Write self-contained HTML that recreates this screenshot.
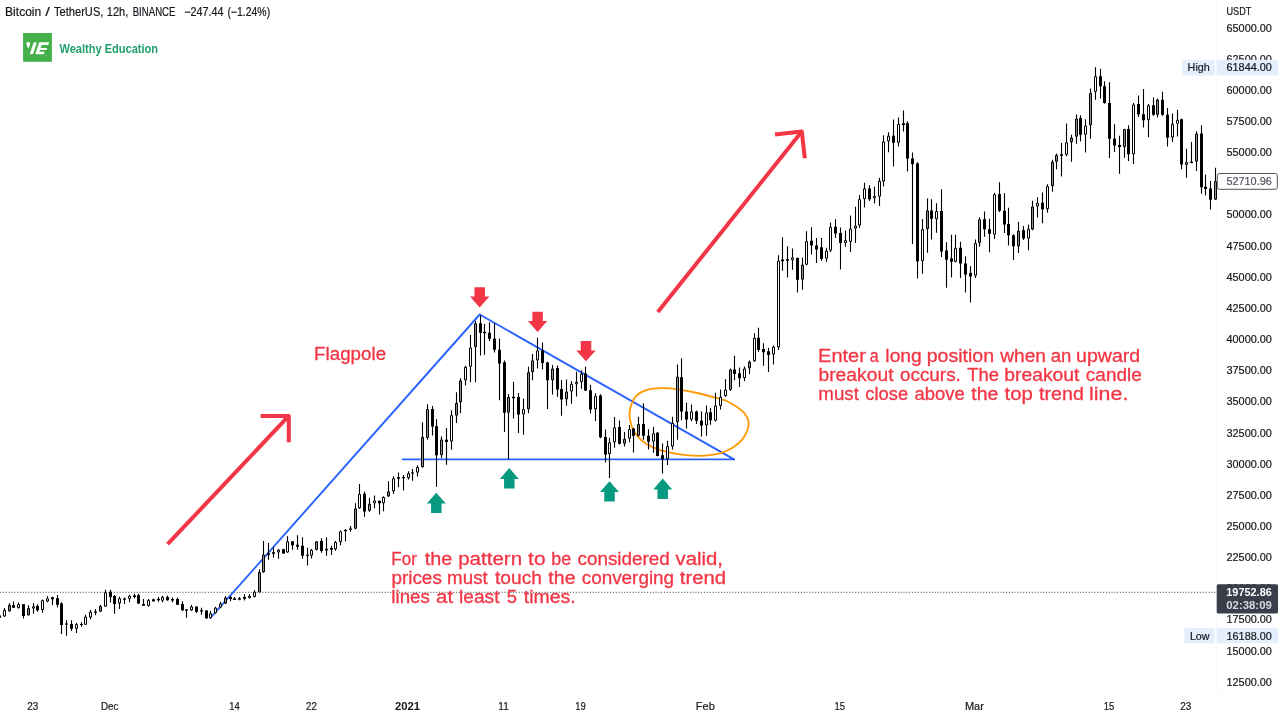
<!DOCTYPE html>
<html lang="en"><head><meta charset="utf-8"><title>Bitcoin / TetherUS, 12h, BINANCE</title>
<style>html,body{margin:0;padding:0;background:#fff;}body{width:1280px;height:717px;overflow:hidden;font-family:"Liberation Sans", sans-serif;}svg{display:block;}text{font-family:"Liberation Sans", sans-serif;}</style>
</head><body>
<svg width="1280" height="717" viewBox="0 0 1280 717">
<rect x="0" y="0" width="1280" height="717" fill="#ffffff"/>
<line x1="1216.5" y1="0" x2="1216.5" y2="692.5" stroke="#f9fafb" stroke-width="1"/>
<line x1="0" y1="692.5" x2="1280" y2="692.5" stroke="#f9fafb" stroke-width="1"/>
<line x1="0" y1="592.3" x2="1216" y2="592.3" stroke="#4a4e59" stroke-width="1" stroke-dasharray="1.1 1.75"/>
<g stroke="#2962ff" stroke-width="1.9" fill="none" stroke-linecap="round" stroke-linejoin="round">
<path d="M212 616.2L479.7 314.5L734 459.4"/>
<path d="M402.7 459.4H734"/>
</g>
<path d="M629.5 413.4C629.72 408.98 631.47 403.62 633.2 400.2C634.93 396.78 636.58 394.83 639.9 392.9C643.22 390.97 648.68 389.38 653.1 388.6C657.52 387.82 661.98 388.03 666.4 388.2C670.82 388.37 674.08 388.72 679.6 389.6C685.12 390.48 692.88 391.97 699.5 393.5C706.12 395.03 714.88 397.58 719.3 398.8C723.72 400.02 723.12 399.47 726 400.8C728.88 402.13 733.52 404.7 736.6 406.8C739.68 408.9 742.52 410.97 744.5 413.4C746.48 415.83 748.05 418.53 748.5 421.4C748.95 424.27 748.3 427.52 747.2 430.6C746.1 433.68 744.33 437.03 741.9 439.9C739.47 442.77 736.13 445.6 732.6 447.8C729.07 450 724.45 451.88 720.7 453.1C716.95 454.32 713.63 454.65 710.1 455.1C706.57 455.55 703.48 455.8 699.5 455.8C695.52 455.8 690.62 455.55 686.2 455.1C681.78 454.65 677.42 453.98 673 453.1C668.58 452.22 664.12 451.33 659.7 449.8C655.28 448.27 650.25 446.22 646.5 443.9C642.75 441.58 639.63 438.77 637.2 435.9C634.77 433.03 633.18 430.45 631.9 426.7C630.62 422.95 629.28 417.82 629.5 413.4Z" fill="none" stroke="#ff9800" stroke-width="1.8"/>
<g id="candles">
<path d="M-0.5 614.87V617.97M4.5 608.12V616.75M9.5 603.25V611.69M13.5 601.56V607.66M18.5 602.5V608.59M23.5 604.19V618.44M28.5 605.31V615.62M33.5 603.25V613.75M37.5 604.37V611.87M42.5 599.5V612.81M47.5 595.94V602.31M52.5 596.87V605.12M57.5 595V607.19M61.5 602.31V633.9M66.5 620.31V635.78M71.5 620.31V631.09M76.5 623.12V632.97M81.5 622.19V626.87M85.5 614.87V625M90.5 610V619.37M95.5 609.06V615.16M100.5 605.12V611.87M105.5 589.84V607M110.5 589.84V602.5M114.5 595V613.75M119.5 596.87V609.06M124.5 597.5V604.06M129.5 594.69V602.19M134.5 593.75V598.44M138.5 593.75V604.06M143.5 598.91V605.94M148.5 598.91V606.87M153.5 598.44V601.72M158.5 597.03V601.72M162.5 595.81V602.19M167.5 595.62V600.78M172.5 597.5V602.19M177.5 597.5V605M182.5 601.25V611.09M186.5 609.22V617.65M191.5 605V611.09M196.5 606.41V612.97M201.5 607.81V614.84M206.5 610.16V618.87M210.5 611.09V618.87M215.5 606.87V613.62M220.5 601.72V608.28M225.5 596.37V604.06M230.5 596.09V601.25M234.5 596.96V600.1M239.5 596.96V600.31M244.5 594.34V600.62M249.5 594.34V598.53M254.5 590.16V597.48M259.5 569.23V592.57M263.5 540.99V572.69M268.5 543.08V559.82M273.5 547.26V557.73M278.5 549.36V558.77M283.5 548.83V553.85M287.5 536.28V552.81M292.5 540.99V549.67M297.5 535.23V549.67M302.5 537.32V558.77M307.5 547.79V565.57M311.5 549.04V558.46M316.5 540.99V550.4M321.5 538.16V552.81M326.5 537.32V555.63M331.5 545.69V554.9M335.5 540.99V550.72M340.5 530.52V545.17M345.5 529.03V541.57M350.5 525.89V531.79M355.5 503.31V529.28M359.5 484.11V508.7M364.5 491.39V516.73M369.5 497.66V511.71M374.5 495.4V508.32M379.5 500.42V514.6M383.5 496.15V511.21M388.5 481.35V497.03M393.5 476.33V493.64M398.5 472.57V487.37M403.5 475.08V490.38M408.5 471.31V479.47M412.5 469.05V480.72M417.5 465.29V476.58M422.5 422.22V467.61M427.5 404.35V439.79M432.5 406.11V435.39M436.5 419.29V486.65M441.5 436.57V458.09M446.5 428.07V464.68M451.5 410.21V449.75M456.5 392.2V422.95M460.5 378.22V413.36M465.5 365.77V385.54M470.5 335.02V382.32M475.5 321.11V382.32M480.5 315.25V355.52M484.5 324.04V354.79M489.5 322.28V340.88M494.5 323.3V352.59M499.5 338.39V400.18M504.5 360.4V432.05M508.5 393.96V459.26M513.5 381.8V418.45M518.5 393.05V432.96M523.5 398.49V434.77M528.5 366.75V413.37M532.5 354.05V380.35M537.5 337.72V368.56M542.5 342.62V369.47M547.5 361.85V409.01M552.5 364.93V394.5M557.5 365.48V396.68M561.5 379.99V415.73M566.5 379.44V405.75M571.5 380.92V403.85M576.5 371.72V396.49M581.5 370.38V388.79M585.5 366.69V390.96M590.5 384.77V413.56M595.5 393.14V421.09M600.5 394.31V438.33M605.5 429.46V462.43M609.5 437.82V477.99M614.5 416.9V447.87M619.5 420.59V444.52M624.5 431.9V446.54M629.5 425.06V442.25M633.5 427.99V452.4M638.5 416.86V436.39M643.5 403.19V439.71M648.5 429.36V449.47M653.5 427.02V452.79M657.5 431.9V456.31M662.5 443.61V473.49M667.5 440.68V465.09M672.5 416.86V449.47M677.5 364.53V439.71M681.5 358.28V420.18M686.5 402.61V428.58M691.5 404.56V421.16M696.5 410.42V424.09M701.5 411.39V436.39M706.5 405.54V435.8M710.5 407.88V424.67M715.5 392.84V421.55M720.5 389.52V409.44M725.5 379.17V396.75M730.5 368.43V390.89M734.5 355.74V380.15M739.5 367.46V386.98M744.5 366.48V381.13M749.5 360.62V373.9M754.5 333.31V361.67M758.5 327.72V351.84M763.5 343.36V365.69M768.5 347.82V371.94M773.5 345.59V364.57M778.5 255.15V350.06M782.5 237.28V270.78M787.5 246.21V277.48M792.5 248.45V269.66M797.5 257.38V292.44M802.5 257.38V289.76M806.5 231.25V265.2M811.5 227.23V254.48M816.5 237.95V262.96M821.5 237.95V260.73M826.5 247.63V261.94M830.5 222.52V251.9M835.5 219.26V238.09M840.5 227.54V269.47M845.5 230.55V246.87M850.5 215.49V251.9M855.5 206.7V243.11M859.5 194.9V228.04M864.5 182.85V207.46M869.5 185.36V200.93M874.5 186.62V203.44M879.5 177.83V205.95M883.5 135.15V186.62M888.5 132.14V152.22M893.5 119.58V166.53M898.5 117.57V146.45M903.5 110.58V131.5M907.5 121.18V171.39M912.5 152.42V243.91M917.5 162.18V278.5M922.5 219.37V273.76M927.5 198.44V252.84M931.5 199.28V239.45M936.5 203.19V232.75M941.5 189.24V257.02M946.5 242.24V287.71M951.5 234.71V277.38M955.5 234.71V262.6M960.5 241.68V277.94M965.5 256.19V292.45M970.5 266.23V302.49M975.5 239.45V277.94M979.5 217.13V246.7M984.5 211.56V236.66M989.5 218.81V252.28M994.5 192.87V238.89M999.5 182.18V212.02M1004.5 193.33V232.94M1008.5 207.84V245.5M1013.5 234.34V260M1018.5 221.79V253.03M1023.5 225.97V239.92M1028.5 224.57V250.24M1032.5 200.86V230.15M1037.5 197.24V217.6M1042.5 192.5V223.18M1047.5 184.13V212.86M1052.5 159.86V191.66M1056.5 153.44V169.34M1061.5 143.12V176.6M1066.5 123.6V156.23M1071.5 134.76V161.81M1076.5 114.39V143.68M1080.5 115.23V141.45M1085.5 119.14V152.61M1090.5 88.48V138.71M1095.5 67.28V99.64M1100.5 68.84V98.53M1104.5 81.34V103.66M1109.5 82.23V158.12M1114.5 124.2V152.1M1119.5 135.8V173.75M1124.5 128.66V157.68M1128.5 125.31V161.03M1133.5 102.99V163.93M1138.5 95.62V117.05M1143.5 88.93V127.54M1148.5 104.11V137.14M1153.5 97.41V115.71M1157.5 98.53V117.5M1162.5 91.83V115.71M1167.5 108.12V146.52M1172.5 113.48V142.05M1177.5 109.69V136.47M1181.5 118.62V169.29M1186.5 148.75V177.77M1191.5 142.05V163.26M1196.5 131.34V171.07M1201.5 125.31V193.84M1205.5 174.42V195.62M1210.5 181.12V209.46M1215.5 167.72V200.09" stroke="#000" stroke-width="1.1" fill="none"/>
<path d="M-2 615.62h3v2.06h-3zM12 605.31h3v2.34h-3zM22 604.19h3v11.91h-3zM36 606.06h3v4.12h-3zM51 597.34h3v1.87h-3zM56 598.28h3v6.56h-3zM60 603.44h3v21.56h-3zM65 623.56h3v1h-3zM70 624.06h3v4.69h-3zM80 624.03h3v1h-3zM94 611.41h3v1.41h-3zM109 591.72h3v5.16h-3zM113 595.94h3v7.97h-3zM123 598.44h3v1.41h-3zM133 595.62h3v1.41h-3zM137 595.16h3v8.44h-3zM142 604.06h3v1.69h-3zM152 599.19h3v2.06h-3zM157 598.91h3v1.41h-3zM166 597.03h3v3.28h-3zM171 598.91h3v1.59h-3zM176 598.91h3v5.91h-3zM181 604.06h3v6.09h-3zM185 609.22h3v1.22h-3zM195 606.41h3v5.34h-3zM200 610.16h3v1.22h-3zM205 610.44h3v7.87h-3zM229 597.03h3v1.87h-3zM233 598.53h3v1.36h-3zM243 596.96h3v1.88h-3zM267 553.23h3v1.88h-3zM272 552.18h3v1.67h-3zM282 549.36h3v4.18h-3zM291 541.3h3v3.87h-3zM296 544.65h3v2.09h-3zM301 545.69h3v9.94h-3zM306 554.82h3v1h-3zM320 540.99h3v9.94h-3zM330 548h3v1.67h-3zM349 528.4h3v1.25h-3zM363 493.64h3v17.82h-3zM378 500.8h3v2.51h-3zM397 477.33h3v1.51h-3zM402 476.96h3v1.25h-3zM411 472.57h3v1h-3zM431 409.04h3v17.57h-3zM435 426.32h3v28.85h-3zM445 439.79h3v2.2h-3zM479 323.3h3v9.52h-3zM483 331.8h3v1.46h-3zM488 332.82h3v5.86h-3zM493 338.39h3v11.28h-3zM498 349.66h3v13.91h-3zM503 362.21h3v50.43h-3zM512 396.68h3v1.45h-3zM517 397.04h3v17.41h-3zM541 350.42h3v12.7h-3zM546 362.57h3v17.78h-3zM556 368.02h3v21.41h-3zM560 389.06h3v10.34h-3zM584 373.39h3v17.07h-3zM589 390.13h3v19.25h-3zM599 395.48h3v41.84h-3zM604 436.99h3v17.57h-3zM618 426.95h3v16.74h-3zM632 428.58h3v7.23h-3zM642 424.09h3v11.72h-3zM647 435.8h3v5.86h-3zM656 432.87h3v23.04h-3zM661 455.33h3v3.91h-3zM680 377.22h3v34.17h-3zM685 411.39h3v8.2h-3zM695 411.39h3v9.37h-3zM700 420.77h3v4.69h-3zM709 412.37h3v7.81h-3zM733 369.41h3v4.49h-3zM738 373.31h3v4.88h-3zM757 337.77h3v12.28h-3zM762 348.94h3v3.35h-3zM767 351.17h3v3.8h-3zM781 259.61h3v1.56h-3zM786 258.94h3v1.79h-3zM796 258.05h3v21.66h-3zM810 240.63h3v4.91h-3zM815 245.54h3v4.02h-3zM820 247.33h3v11.61h-3zM834 226.79h3v6.78h-3zM839 233.07h3v10.04h-3zM868 188.38h3v10.8h-3zM892 135.65h3v7.03h-3zM902 123.13h3v1.95h-3zM906 123.13h3v35.43h-3zM911 158.56h3v5.58h-3zM916 163.58h3v97.63h-3zM930 210.44h3v8.37h-3zM940 211h3v40.45h-3zM945 250.61h3v9.21h-3zM950 258.42h3v3.35h-3zM959 247.82h3v15.62h-3zM964 263.44h3v11.16h-3zM969 272.92h3v3.63h-3zM983 219.37h3v9.76h-3zM988 229.13h3v4.74h-3zM998 193.89h3v16.74h-3zM1003 210.63h3v13.95h-3zM1007 224.02h3v11.16h-3zM1012 235.17h3v11.16h-3zM1022 230.15h3v8.37h-3zM1041 202.82h3v6.42h-3zM1060 154.28h3v1.39h-3zM1079 118.02h3v16.74h-3zM1099 76.21h3v10.04h-3zM1103 86.25h3v16.74h-3zM1108 102.99h3v35.71h-3zM1113 138.71h3v6.7h-3zM1118 144.96h3v2.01h-3zM1127 129.11h3v25.22h-3zM1137 104.11h3v10.04h-3zM1142 114.15h3v6.03h-3zM1152 105.22h3v9.6h-3zM1161 99.64h3v15.18h-3zM1166 114.82h3v22.77h-3zM1180 119.29h3v45.09h-3zM1190 161.7h3v1.34h-3zM1200 133.57h3v53.57h-3zM1204 186.7h3v2.23h-3zM1209 188.48h3v11.16h-3z" fill="#000"/>
<path d="M3.5 610.31h2v5.75h-2zM17.5 604.69h2v2.94h-2zM32.5 606.75h2v1.34h-2zM41.5 600.66h2v8.84h-2zM46.5 598.78h2v2.28h-2zM75.5 624.56h2v3.69h-2zM84.5 617.06h2v7.25h-2zM89.5 612.19h2v4.81h-2zM104.5 592.69h2v13.53h-2zM118.5 598.78h2v4.16h-2zM128.5 596.12h2v2.28h-2zM147.5 600.62h2v4.81h-2zM161.5 597.25h2v3.03h-2zM190.5 606.91h2v3.03h-2zM209.5 613.75h2v4.06h-2zM214.5 608.12h2v4.62h-2zM219.5 604.09h2v2.75h-2zM238.5 598.51h2v0.88h-2zM248.5 596.2h2v1.51h-2zM253.5 592.23h2v4.23h-2zM277.5 550.17h2v1.82h-2zM286.5 541.8h2v10.19h-2zM310.5 550.38h2v4.75h-2zM325.5 549.12h2v1.09h-2zM334.5 542.53h2v6.32h-2zM339.5 531.76h2v9.78h-2zM344.5 530.15h2v0.88h-2zM358.5 494.4h2v13.43h-2zM373.5 500.92h2v1.89h-2zM382.5 497.53h2v5.27h-2zM392.5 478.71h2v12.17h-2zM407.5 473.69h2v4.02h-2zM416.5 467.42h2v4.65h-2zM450.5 415.69h2v25.36h-2zM464.5 367.3h2v12.62h-2zM469.5 347.97h2v18.33h-2zM522.5 409.51h2v4.44h-2zM536.5 350.92h2v8.98h-2zM570.5 384.27h2v6.7h-2zM575.5 382.26h2v1.51h-2zM580.5 374.22h2v7.37h-2zM594.5 396.48h2v12.39h-2zM608.5 442.84h2v10.72h-2zM613.5 427.78h2v14.06h-2zM628.5 429.47h2v8.76h-2zM652.5 433.76h2v7.4h-2zM666.5 446.65h2v12.08h-2zM671.5 423.22h2v22.82h-2zM690.5 411.89h2v7.2h-2zM705.5 412.87h2v12.08h-2zM714.5 406.04h2v14.23h-2zM719.5 397.25h2v8.18h-2zM724.5 390.02h2v5.64h-2zM743.5 368.93h2v8.76h-2zM753.5 338.27h2v22.45h-2zM772.5 347.21h2v6.82h-2zM777.5 261.23h2v85.65h-2zM791.5 257.88h2v1.9h-2zM805.5 241.58h2v22.67h-2zM825.5 251.14h2v7.03h-2zM829.5 227.29h2v22.85h-2zM844.5 240.6h2v2.01h-2zM849.5 229.05h2v12.31h-2zM854.5 226.03h2v2.01h-2zM858.5 199.67h2v25.36h-2zM863.5 188.88h2v9.8h-2zM873.5 196.41h2v1.51h-2zM878.5 181.34h2v14.82h-2zM882.5 141.93h2v39.17h-2zM887.5 136.15h2v4.77h-2zM897.5 124.35h2v17.83h-2zM921.5 229.63h2v31.08h-2zM935.5 211.5h2v7.37h-2zM954.5 248.32h2v12.95h-2zM974.5 243.58h2v31.64h-2zM993.5 194.76h2v39.45h-2zM1027.5 229.26h2v8.76h-2zM1036.5 203.32h2v2.63h-2zM1046.5 186.58h2v22.15h-2zM1065.5 142.79h2v11.55h-2zM1084.5 126.05h2v8.21h-2zM1094.5 76.71h2v14.62h-2zM1132.5 105.05h2v48.78h-2zM1147.5 105.72h2v13.96h-2zM1171.5 124.25h2v12.84h-2zM1176.5 120.23h2v3.02h-2zM1185.5 162.64h2v1.68h-2z" fill="#fff" stroke="#000" stroke-width="1"/>
<path d="M8.5 605.34h2v5.56h-2zM27.5 608.62h2v6.31h-2zM99.5 606.56h2v4.62h-2zM224.5 598h2v5.09h-2zM258.5 572.35h2v19.51h-2zM262.5 555.09h2v16.79h-2zM315.5 541.8h2v7.58h-2zM354.5 508.82h2v19.45h-2zM368.5 504.18h2v6.15h-2zM387.5 491.89h2v4.02h-2zM421.5 437.36h2v29.46h-2zM426.5 409.54h2v27.99h-2zM440.5 439.99h2v14.67h-2zM455.5 403.39h2v11.74h-2zM459.5 380.91h2v20.97h-2zM474.5 323.8h2v22.87h-2zM507.5 397.54h2v14.6h-2zM527.5 372.69h2v36.19h-2zM531.5 360.9h2v10.79h-2zM551.5 369.06h2v10.79h-2zM565.5 392.1h2v6.8h-2zM623.5 439.23h2v3.88h-2zM637.5 424.59h2v10.72h-2zM676.5 377.13h2v44.5h-2zM729.5 369.91h2v19.5h-2zM748.5 362.1h2v5.83h-2zM801.5 265.25h2v13.96h-2zM926.5 210.94h2v17.69h-2zM978.5 219.87h2v22.71h-2zM1017.5 231.21h2v14.62h-2zM1031.5 206.94h2v22.15h-2zM1051.5 162.31h2v23.27h-2zM1055.5 155.34h2v5.97h-2zM1070.5 138.05h2v3.74h-2zM1075.5 119.08h2v17.13h-2zM1089.5 93.45h2v31.37h-2zM1123.5 129.61h2v16.86h-2zM1156.5 100.14h2v14.18h-2zM1195.5 134.07h2v27.12h-2zM1214.5 181.62h2v17.53h-2z" fill="#8e8e8e" stroke="#000" stroke-width="1"/>
</g>
<g stroke="#f23645" stroke-width="4" fill="none" stroke-linecap="butt" stroke-linejoin="round">
<path d="M167.6 544.2L288.8 415.9"/>
<path d="M260.6 415.9H288.8V442.2" />
<path d="M657.8 312L801.8 131.5"/>
<path d="M775 134.6L801.8 131.5L804.8 158.2"/>
</g>
<path d="M479.7 307.4L470 296.6H474.45V287.2H484.95V296.6H489.4Z" fill="#f23645"/>
<path d="M537.6 331.9L527.9 321.1H532.35V311.7H542.85V321.1H547.3Z" fill="#f23645"/>
<path d="M586 361.2L576.3 350.4H580.75V341H591.25V350.4H595.7Z" fill="#f23645"/>
<path d="M436.3 492.8L426.8 503.6H431.05V513.1H441.55V503.6H445.8Z" fill="#089981"/>
<path d="M509.3 468.1L499.8 478.9H504.05V488.4H514.55V478.9H518.8Z" fill="#089981"/>
<path d="M609.5 481.3L600 492.1H604.25V501.6H614.75V492.1H619Z" fill="#089981"/>
<path d="M662.7 478.6L653.2 489.4H657.45V498.9H667.95V489.4H672.2Z" fill="#089981"/>
<rect x="23.1" y="33" width="28.8" height="28.8" fill="#43b04a"/>
<g fill="#fff" id="logo">
<path d="M26.5 44.4A1.9 1.9 0 1 1 30.2 43.9C30.3 45 29.4 45.6 29.1 46.3C28.9 47 29.2 47.9 29.4 48.6C27.9 47.7 26.7 46.1 26.5 44.4Z"/>
<g transform="translate(0,54.3) skewX(-18) translate(0,-54.3)">
<rect x="29.7" y="42.3" width="3.3" height="12" rx="1.1" ry="1.1"/>
<path d="M35.3 42.3H44.6Q45.4 42.3 45.4 43.1V44.1Q45.4 44.9 44.6 44.9H38.5V47.9H44.6Q45.2 47.9 45.2 48.5V49.4Q45.2 50 44.6 50H38.5V51.8H43.2Q43.9 51.8 43.9 52.5V53.6Q43.9 54.3 43.2 54.3H36Q35.3 54.3 35.3 53.6Z"/>
</g>
<circle cx="45.3" cy="55.3" r="0.35"/>
</g>
<text x="59.4" y="52.6" font-size="12" fill="#22a06b" font-weight="bold" textLength="98.7" lengthAdjust="spacingAndGlyphs">Wealthy Education</text>
<text y="16" font-size="12" fill="#15171c" stroke="#15171c" stroke-width="0.2"><tspan x="5.1" textLength="36.12" lengthAdjust="spacingAndGlyphs">Bitcoin</tspan> <tspan x="45.3" textLength="4.65" lengthAdjust="spacingAndGlyphs">/</tspan> <tspan x="54.02" textLength="49.35" lengthAdjust="spacingAndGlyphs">TetherUS,</tspan> <tspan x="106.77" textLength="21.5" lengthAdjust="spacingAndGlyphs">12h,</tspan> <tspan x="132.7" textLength="42.74" lengthAdjust="spacingAndGlyphs">BINANCE</tspan> <tspan x="184.36" textLength="39.01" lengthAdjust="spacingAndGlyphs">&#8722;247.44</tspan> <tspan x="227.39" textLength="42.74" lengthAdjust="spacingAndGlyphs">(&#8722;1.24%)</tspan></text>
<text y="361.9" font-size="17.5" fill="#f23645" stroke="#f23645" stroke-width="0.3"><tspan x="818.05" textLength="47.83" lengthAdjust="spacingAndGlyphs">Enter</tspan> <tspan x="869.86" textLength="8.92" lengthAdjust="spacingAndGlyphs">a</tspan> <tspan x="885.38" textLength="36.42" lengthAdjust="spacingAndGlyphs">long</tspan> <tspan x="926.67" textLength="67.48" lengthAdjust="spacingAndGlyphs">position</tspan> <tspan x="1000.2" textLength="45.74" lengthAdjust="spacingAndGlyphs">when</tspan> <tspan x="1050.66" textLength="20.57" lengthAdjust="spacingAndGlyphs">an</tspan> <tspan x="1076.07" textLength="64.15" lengthAdjust="spacingAndGlyphs">upward</tspan></text>
<text y="381.2" font-size="17.5" fill="#f23645" stroke="#f23645" stroke-width="0.3"><tspan x="818.44" textLength="75.08" lengthAdjust="spacingAndGlyphs">breakout</tspan> <tspan x="899.94" textLength="60.89" lengthAdjust="spacingAndGlyphs">occurs.</tspan> <tspan x="967.28" textLength="31.71" lengthAdjust="spacingAndGlyphs">The</tspan> <tspan x="1004.29" textLength="75.13" lengthAdjust="spacingAndGlyphs">breakout</tspan> <tspan x="1085.84" textLength="55.99" lengthAdjust="spacingAndGlyphs">candle</tspan></text>
<text y="400.4" font-size="17.5" fill="#f23645" stroke="#f23645" stroke-width="0.3"><tspan x="818.37" textLength="40.56" lengthAdjust="spacingAndGlyphs">must</tspan> <tspan x="865.37" textLength="42.72" lengthAdjust="spacingAndGlyphs">close</tspan> <tspan x="914.57" textLength="50.05" lengthAdjust="spacingAndGlyphs">above</tspan> <tspan x="971.37" textLength="27.04" lengthAdjust="spacingAndGlyphs">the</tspan> <tspan x="1004.55" textLength="28.4" lengthAdjust="spacingAndGlyphs">top</tspan> <tspan x="1039.06" textLength="44.76" lengthAdjust="spacingAndGlyphs">trend</tspan> <tspan x="1089.13" textLength="39.23" lengthAdjust="spacingAndGlyphs">line.</tspan></text>
<text y="564.9" font-size="17.5" fill="#f23645" stroke="#f23645" stroke-width="0.3"><tspan x="391.29" textLength="25.56" lengthAdjust="spacingAndGlyphs">For</tspan> <tspan x="424.86" textLength="27.46" lengthAdjust="spacingAndGlyphs">the</tspan> <tspan x="458.21" textLength="63.86" lengthAdjust="spacingAndGlyphs">pattern</tspan> <tspan x="528.14" textLength="17.38" lengthAdjust="spacingAndGlyphs">to</tspan> <tspan x="551.38" textLength="19.91" lengthAdjust="spacingAndGlyphs">be</tspan> <tspan x="577.44" textLength="92.46" lengthAdjust="spacingAndGlyphs">considered</tspan> <tspan x="675.58" textLength="47.42" lengthAdjust="spacingAndGlyphs">valid,</tspan></text>
<text y="583.8" font-size="17.5" fill="#f23645" stroke="#f23645" stroke-width="0.3"><tspan x="391.46" textLength="50.37" lengthAdjust="spacingAndGlyphs">prices</tspan> <tspan x="447.11" textLength="40.62" lengthAdjust="spacingAndGlyphs">must</tspan> <tspan x="494.97" textLength="46.95" lengthAdjust="spacingAndGlyphs">touch</tspan> <tspan x="548.37" textLength="27.15" lengthAdjust="spacingAndGlyphs">the</tspan> <tspan x="581.74" textLength="92.35" lengthAdjust="spacingAndGlyphs">converging</tspan> <tspan x="679.85" textLength="46.31" lengthAdjust="spacingAndGlyphs">trend</tspan></text>
<text y="602.8" font-size="17.5" fill="#f23645" stroke="#f23645" stroke-width="0.3"><tspan x="391.37" textLength="38.46" lengthAdjust="spacingAndGlyphs">lines</tspan> <tspan x="436.08" textLength="17.13" lengthAdjust="spacingAndGlyphs">at</tspan> <tspan x="459.09" textLength="40.39" lengthAdjust="spacingAndGlyphs">least</tspan> <tspan x="506.77" textLength="10.2" lengthAdjust="spacingAndGlyphs">5</tspan> <tspan x="523.77" textLength="51.99" lengthAdjust="spacingAndGlyphs">times.</tspan></text>
<text y="359.5" font-size="17.5" fill="#f23645" stroke="#f23645" stroke-width="0.3"><tspan x="314.1" textLength="71.98" lengthAdjust="spacingAndGlyphs">Flagpole</tspan></text>
<text x="1226.5" y="14.9" font-size="11" fill="#15171c" textLength="24.8" lengthAdjust="spacingAndGlyphs" stroke="#15171c" stroke-width="0.2">USDT</text>
<text x="1226.5" y="31.5" font-size="11" fill="#15171c" textLength="45.4" lengthAdjust="spacingAndGlyphs" stroke="#15171c" stroke-width="0.2">65000.00</text>
<text x="1226.5" y="62.66" font-size="11" fill="#15171c" textLength="45.4" lengthAdjust="spacingAndGlyphs" stroke="#15171c" stroke-width="0.2">62500.00</text>
<text x="1226.5" y="93.81" font-size="11" fill="#15171c" textLength="45.4" lengthAdjust="spacingAndGlyphs" stroke="#15171c" stroke-width="0.2">60000.00</text>
<text x="1226.5" y="124.97" font-size="11" fill="#15171c" textLength="45.4" lengthAdjust="spacingAndGlyphs" stroke="#15171c" stroke-width="0.2">57500.00</text>
<text x="1226.5" y="156.13" font-size="11" fill="#15171c" textLength="45.4" lengthAdjust="spacingAndGlyphs" stroke="#15171c" stroke-width="0.2">55000.00</text>
<text x="1226.5" y="187.29" font-size="11" fill="#15171c" textLength="45.4" lengthAdjust="spacingAndGlyphs" stroke="#15171c" stroke-width="0.2">52500.00</text>
<text x="1226.5" y="218.44" font-size="11" fill="#15171c" textLength="45.4" lengthAdjust="spacingAndGlyphs" stroke="#15171c" stroke-width="0.2">50000.00</text>
<text x="1226.5" y="249.6" font-size="11" fill="#15171c" textLength="45.4" lengthAdjust="spacingAndGlyphs" stroke="#15171c" stroke-width="0.2">47500.00</text>
<text x="1226.5" y="280.76" font-size="11" fill="#15171c" textLength="45.4" lengthAdjust="spacingAndGlyphs" stroke="#15171c" stroke-width="0.2">45000.00</text>
<text x="1226.5" y="311.92" font-size="11" fill="#15171c" textLength="45.4" lengthAdjust="spacingAndGlyphs" stroke="#15171c" stroke-width="0.2">42500.00</text>
<text x="1226.5" y="343.07" font-size="11" fill="#15171c" textLength="45.4" lengthAdjust="spacingAndGlyphs" stroke="#15171c" stroke-width="0.2">40000.00</text>
<text x="1226.5" y="374.23" font-size="11" fill="#15171c" textLength="45.4" lengthAdjust="spacingAndGlyphs" stroke="#15171c" stroke-width="0.2">37500.00</text>
<text x="1226.5" y="405.39" font-size="11" fill="#15171c" textLength="45.4" lengthAdjust="spacingAndGlyphs" stroke="#15171c" stroke-width="0.2">35000.00</text>
<text x="1226.5" y="436.55" font-size="11" fill="#15171c" textLength="45.4" lengthAdjust="spacingAndGlyphs" stroke="#15171c" stroke-width="0.2">32500.00</text>
<text x="1226.5" y="467.7" font-size="11" fill="#15171c" textLength="45.4" lengthAdjust="spacingAndGlyphs" stroke="#15171c" stroke-width="0.2">30000.00</text>
<text x="1226.5" y="498.86" font-size="11" fill="#15171c" textLength="45.4" lengthAdjust="spacingAndGlyphs" stroke="#15171c" stroke-width="0.2">27500.00</text>
<text x="1226.5" y="530.02" font-size="11" fill="#15171c" textLength="45.4" lengthAdjust="spacingAndGlyphs" stroke="#15171c" stroke-width="0.2">25000.00</text>
<text x="1226.5" y="561.18" font-size="11" fill="#15171c" textLength="45.4" lengthAdjust="spacingAndGlyphs" stroke="#15171c" stroke-width="0.2">22500.00</text>
<text x="1226.5" y="592.34" font-size="11" fill="#15171c" textLength="45.4" lengthAdjust="spacingAndGlyphs" stroke="#15171c" stroke-width="0.2">20000.00</text>
<text x="1226.5" y="623.49" font-size="11" fill="#15171c" textLength="45.4" lengthAdjust="spacingAndGlyphs" stroke="#15171c" stroke-width="0.2">17500.00</text>
<text x="1226.5" y="654.65" font-size="11" fill="#15171c" textLength="45.4" lengthAdjust="spacingAndGlyphs" stroke="#15171c" stroke-width="0.2">15000.00</text>
<text x="1226.5" y="685.81" font-size="11" fill="#15171c" textLength="45.4" lengthAdjust="spacingAndGlyphs" stroke="#15171c" stroke-width="0.2">12500.00</text>
<rect x="1182.3" y="59.8" width="32.7" height="15.7" fill="#e3effd"/>
<rect x="1216.8" y="59.8" width="61.4" height="15.7" fill="#e3effd"/>
<text x="1187.6" y="71.3" font-size="11" fill="#131722" textLength="22.2" lengthAdjust="spacingAndGlyphs" stroke="#131722" stroke-width="0.2">High</text>
<text x="1226.5" y="71.3" font-size="11" fill="#15171c" textLength="45.4" lengthAdjust="spacingAndGlyphs" stroke="#15171c" stroke-width="0.2">61844.00</text>
<rect x="1184.3" y="628" width="30.4" height="15.3" fill="#e3effd"/>
<rect x="1217" y="628" width="61" height="15.3" fill="#e3effd"/>
<text x="1189.9" y="639.6" font-size="11" fill="#131722" textLength="19.5" lengthAdjust="spacingAndGlyphs" stroke="#131722" stroke-width="0.2">Low</text>
<text x="1226.5" y="639.6" font-size="11" fill="#15171c" textLength="45.4" lengthAdjust="spacingAndGlyphs" stroke="#15171c" stroke-width="0.2">16188.00</text>
<rect x="1217.3" y="173.5" width="60" height="15.8" rx="2" ry="2" fill="#fff" stroke="#50535e" stroke-width="1"/>
<text x="1226.4" y="185.3" font-size="11" fill="#50535e" textLength="45.4" lengthAdjust="spacingAndGlyphs" stroke="#50535e" stroke-width="0.2">52710.96</text>
<rect x="1216.7" y="584.3" width="61.3" height="29.1" rx="1.5" ry="1.5" fill="#3a3e4b"/>
<text x="1226.3" y="596.2" font-size="11" fill="#ffffff" font-weight="bold" textLength="45.5" lengthAdjust="spacingAndGlyphs">19752.86</text>
<text x="1226.3" y="609.3" font-size="11" fill="#d8dadf" font-weight="bold" textLength="45.5" lengthAdjust="spacingAndGlyphs">02:38:09</text>
<text x="27.3" y="709.7" font-size="11" fill="#15171c" textLength="11" lengthAdjust="spacingAndGlyphs" stroke="#15171c" stroke-width="0.2">23</text>
<text x="100.91" y="709.7" font-size="11" fill="#15171c" textLength="17.5" lengthAdjust="spacingAndGlyphs" stroke="#15171c" stroke-width="0.2">Dec</text>
<text x="229.32" y="709.7" font-size="11" fill="#15171c" textLength="10.5" lengthAdjust="spacingAndGlyphs" stroke="#15171c" stroke-width="0.2">14</text>
<text x="306.03" y="709.7" font-size="11" fill="#15171c" textLength="10.8" lengthAdjust="spacingAndGlyphs" stroke="#15171c" stroke-width="0.2">22</text>
<text x="395.01" y="709.7" font-size="11" fill="#15171c" font-weight="bold" textLength="25" lengthAdjust="spacingAndGlyphs">2021</text>
<text x="498.34" y="709.7" font-size="11" fill="#15171c" textLength="10.5" lengthAdjust="spacingAndGlyphs" stroke="#15171c" stroke-width="0.2">11</text>
<text x="575.21" y="709.7" font-size="11" fill="#15171c" textLength="10.5" lengthAdjust="spacingAndGlyphs" stroke="#15171c" stroke-width="0.2">19</text>
<text x="695.86" y="709.7" font-size="11" fill="#15171c" textLength="19" lengthAdjust="spacingAndGlyphs" stroke="#15171c" stroke-width="0.2">Feb</text>
<text x="834.62" y="709.7" font-size="11" fill="#15171c" textLength="10.5" lengthAdjust="spacingAndGlyphs" stroke="#15171c" stroke-width="0.2">15</text>
<text x="964.88" y="709.7" font-size="11" fill="#15171c" textLength="19" lengthAdjust="spacingAndGlyphs" stroke="#15171c" stroke-width="0.2">Mar</text>
<text x="1103.65" y="709.7" font-size="11" fill="#15171c" textLength="10.5" lengthAdjust="spacingAndGlyphs" stroke="#15171c" stroke-width="0.2">15</text>
<text x="1180.26" y="709.7" font-size="11" fill="#15171c" textLength="11" lengthAdjust="spacingAndGlyphs" stroke="#15171c" stroke-width="0.2">23</text>
</svg>
</body></html>
